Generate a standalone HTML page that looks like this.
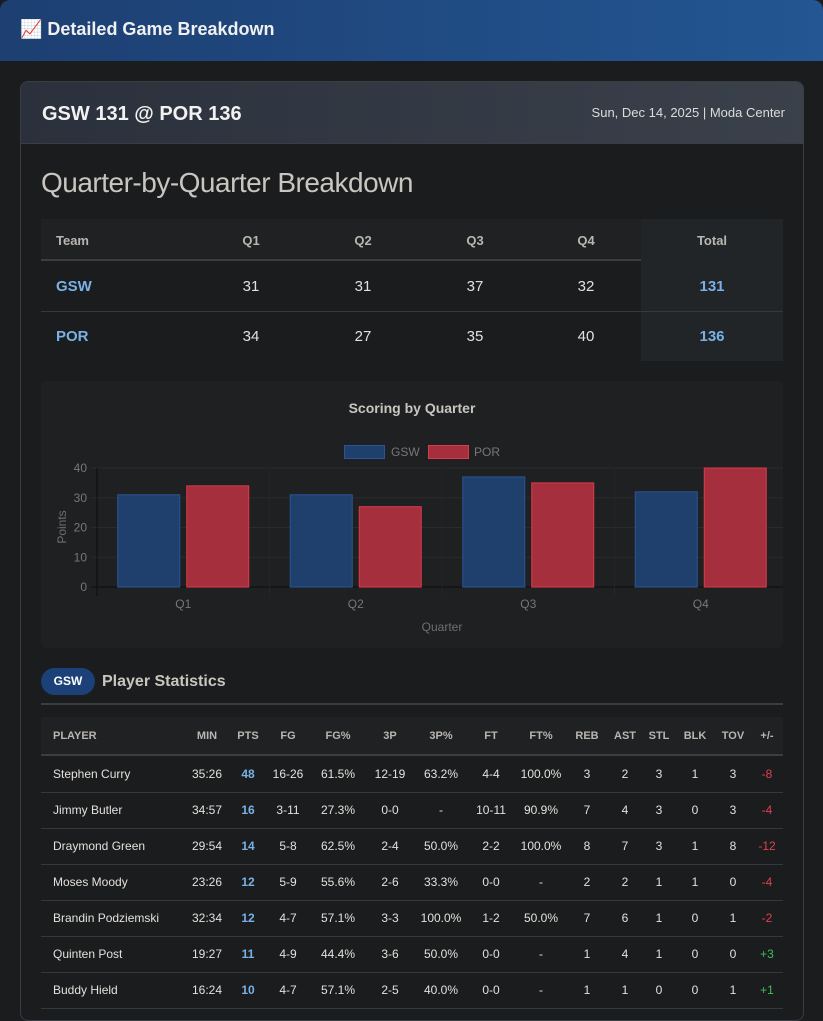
<!DOCTYPE html>
<html><head><meta charset="utf-8">
<style>
*{box-sizing:border-box;margin:0;padding:0}
body{width:823px;height:1007px;overflow:hidden;background:#1b1c1e;font-family:"Liberation Sans",sans-serif;color:#e0ddd8;position:relative}
.abs{position:absolute}
#topbar{left:0;top:0;width:823px;height:61px;background:linear-gradient(90deg,#1d3f72,#235692);border-radius:10px 10px 0 0}
#topbar span{position:absolute;left:20px;top:19px;font-size:18px;font-weight:bold;color:#f0f0f0}
#card{left:20px;top:81px;width:784px;height:940px;border:1px solid #3a3d42;border-radius:8px;background:#1b1c1e;overflow:hidden}
#cardhead{left:0;top:0;width:784px;height:62px;background:linear-gradient(90deg,#2b313c,#3a414b);border-bottom:1px solid #3a3d42}
.c{text-align:center;transform:translateX(-50%)}
.cell{position:absolute;font-size:12px;color:#e4e1dc;white-space:nowrap}
.hcell{position:absolute;font-size:11px;font-weight:bold;color:#b9b6b0;white-space:nowrap}
</style></head><body>
<div id="topbar" class="abs"><span>📈 Detailed Game Breakdown</span></div>
<div id="card" class="abs">
 <div id="cardhead" class="abs">
  <div class="abs" style="left:21px;top:21px;font-size:20px;font-weight:bold;color:#f2f2f2">GSW 131 @ POR 136</div>
  <div class="abs" style="right:20px;top:23px;font-size:13px;color:#dcdcdc">Sun, Dec 14, 2025 | Moda Center</div>
 </div>
</div>
<div class="abs" style="left:41px;top:167px;font-size:28px;color:#c9c6c0;letter-spacing:-0.5px">Quarter-by-Quarter Breakdown</div>

<div class="abs" style="left:41px;top:219px;width:742px;height:142px">
 <div class="abs" style="left:0;top:0;width:742px;height:42px;background:#1f2123;border-bottom:2px solid #3a3d42"></div>
 <div class="abs" style="left:600px;top:0;width:142px;height:142px;background:#222528"></div>
 <div class="abs" style="left:0;top:92px;width:742px;height:1px;background:#35383c"></div>
 <div id="qt"></div>
</div>

<div class="abs" style="left:41px;top:381px;width:742px;height:267px;background:#1f2022;border-radius:6px"></div>
<svg class="abs" style="left:0;top:0" width="823" height="1007" id="chart"><defs><clipPath id="cp"><rect x="41" y="381" width="742" height="267"/></clipPath></defs><g id="cg" clip-path="url(#cp)"></g></svg>

<div class="abs" style="left:41px;top:668px;width:54px;height:27px;background:#1c4178;border-radius:14px;font-size:12px;font-weight:bold;color:#fff;text-align:center;line-height:27px">GSW</div>
<div class="abs" style="left:102px;top:673px;font-size:16px;font-weight:bold;color:#c9c6c0">Player Statistics</div>
<div class="abs" style="left:41px;top:703px;width:742px;height:2px;background:#3a3d42"></div>
<div class="abs" style="left:41px;top:717px;width:742px;height:39px;background:#1f2123;border-bottom:2px solid #3a3d42"></div>
<div id="pt"></div>

<script>
// quarter table
const qTeams=['GSW','POR'];
const qScores=[[31,31,37,32,131],[34,27,35,40,136]];
const qHead=['Q1','Q2','Q3','Q4','Total'];
const qx=[210,322,434,545,671];
const qt=document.getElementById('qt');
function mk(parent,cls,txt,x,y,extra){const d=document.createElement('div');d.className=cls;d.textContent=txt;d.style.left=x+'px';d.style.top=y+'px';if(extra)d.style.cssText+=extra;parent.appendChild(d);return d;}
let h=mk(qt,'hcell','Team',15,14,'font-size:13px');


qHead.forEach((t,i)=>{const e=mk(qt,'hcell c',t,qx[i],14,'font-size:13px');

});
qTeams.forEach((tm,r)=>{const y=59+r*50;
const e=mk(qt,'cell',tm,15,y,'font-size:15px;font-weight:bold;color:#79b1e6');


qScores[r].forEach((v,i)=>{const s=mk(qt,'cell c',v,qx[i],y,'font-size:15px;'+(i==4?'font-weight:bold;color:#79b1e6':''));

});});

// chart
const categories=['Q1','Q2','Q3','Q4'];
const gswValues=[31,31,37,32];
const porValues=[34,27,35,40];
const yTicks=[0,10,20,30,40];
const NS='http://www.w3.org/2000/svg';
const svg=document.getElementById('cg');
const X0=97,X1=787,Y0=587,Y1=468,YMAX=40;
const band=(X1-X0)/categories.length;
const xC=i=>X0+band*(i+0.5);
const yS=v=>Y0-(v/YMAX)*(Y0-Y1);
function el(tag,a){const e=document.createElementNS(NS,tag);for(const k in a)e.setAttribute(k,a[k]);svg.appendChild(e);return e;}
yTicks.forEach(t=>{el('line',{x1:X0-6,x2:X1,y1:yS(t),y2:yS(t),stroke:t==0?'#0d0d0e':'#2a2b2e','stroke-width':1});
const tx=el('text',{x:87,y:yS(t)+4,'text-anchor':'end','font-size':12,fill:'#77777a','font-family':'Liberation Sans'});tx.textContent=t;

});
for(let i=0;i<=categories.length;i++){el('line',{x1:X0+band*i,x2:X0+band*i,y1:Y1,y2:Y0+9,stroke:i==0?'#0d0d0e':'#242528'});}
categories.forEach((c,i)=>{
 const g=el('rect',{x:xC(i)-65.5,y:yS(gswValues[i]),width:62,height:Y0-yS(gswValues[i]),fill:'#1f3f6d',stroke:'#2a5494','stroke-width':1});
 
 
 const p=el('rect',{x:xC(i)+3.5,y:yS(porValues[i]),width:62,height:Y0-yS(porValues[i]),fill:'#a52f3c',stroke:'#d93a4a','stroke-width':1});
 
 
 const t=el('text',{x:xC(i),y:608,'text-anchor':'middle','font-size':12,fill:'#77777a','font-family':'Liberation Sans'});t.textContent=c;
 
 
});
let t=el('text',{x:412,y:413,'text-anchor':'middle','font-size':14,'font-weight':'bold',fill:'#c9c6c0','font-family':'Liberation Sans'});t.textContent='Scoring by Quarter';


t=el('text',{x:442,y:631,'text-anchor':'middle','font-size':12,fill:'#6f6f72','font-family':'Liberation Sans'});t.textContent='Quarter';


t=el('text',{x:0,y:0,'text-anchor':'middle','font-size':12,fill:'#6f6f72','font-family':'Liberation Sans',transform:'translate(66,527) rotate(-90)'});t.textContent='Points';


let r=el('rect',{x:344.5,y:445.5,width:40,height:13,fill:'#1f3f6d',stroke:'#2a5494'});


t=el('text',{x:391,y:456,'font-size':12,fill:'#77777a','font-family':'Liberation Sans'});t.textContent='GSW';


r=el('rect',{x:428.5,y:445.5,width:40,height:13,fill:'#a52f3c',stroke:'#d93a4a'});


t=el('text',{x:474,y:456,'font-size':12,fill:'#77777a','font-family':'Liberation Sans'});t.textContent='POR';



// player table
const pHead=['MIN','PTS','FG','FG%','3P','3P%','FT','FT%','REB','AST','STL','BLK','TOV','+/-'];
const pCols=[207,248,288,338,390,441,491,541,587,625,659,695,733,767];
const players=[
['Stephen Curry','35:26','48','16-26','61.5%','12-19','63.2%','4-4','100.0%','3','2','3','1','3','-8'],
['Jimmy Butler','34:57','16','3-11','27.3%','0-0','-','10-11','90.9%','7','4','3','0','3','-4'],
['Draymond Green','29:54','14','5-8','62.5%','2-4','50.0%','2-2','100.0%','8','7','3','1','8','-12'],
['Moses Moody','23:26','12','5-9','55.6%','2-6','33.3%','0-0','-','2','2','1','1','0','-4'],
['Brandin Podziemski','32:34','12','4-7','57.1%','3-3','100.0%','1-2','50.0%','7','6','1','0','1','-2'],
['Quinten Post','19:27','11','4-9','44.4%','3-6','50.0%','0-0','-','1','4','1','0','0','+3'],
['Buddy Hield','16:24','10','4-7','57.1%','2-5','40.0%','0-0','-','1','1','0','0','1','+1']];
const pt=document.getElementById('pt');
h=mk(pt,'hcell','PLAYER',53,730);


pHead.forEach((c,i)=>{const e=mk(pt,'hcell c',c,pCols[i],730);

});
players.forEach((p,r)=>{const y=767+r*36;
const ln=document.createElement('div');ln.className='abs';ln.style.cssText='left:41px;width:742px;height:1px;background:#35383c;top:'+(y+25)+'px';pt.appendChild(ln);
const n=mk(pt,'cell',p[0],53,y);


for(let i=1;i<p.length;i++){let st='';
 if(i==2)st='font-weight:bold;color:#79b1e6';
 if(i==14)st='color:'+(p[i][0]=='+'?'#3fbf5a':'#e0404f');
 const e=mk(pt,'cell c',p[i],pCols[i-1],y,st);
 
 }
});
</script>
</body></html>
